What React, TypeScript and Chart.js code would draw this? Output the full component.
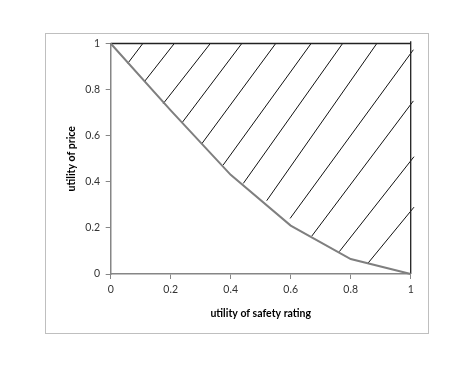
import React, { useEffect, useRef } from "react";
import { Chart, registerables } from "chart.js";

Chart.register(...registerables);

// Axis ticks
const xTickValues = [0, 0.2, 0.4, 0.6, 0.8, 1];
const xTickLabels = ["0", "0.2", "0.4", "0.6", "0.8", "1"];
const yTickValues = [0, 0.2, 0.4, 0.6, 0.8, 1];
const yTickLabels = ["0", "0.2", "0.4", "0.6", "0.8", "1"];

// Trade-off curve (gray)
const curveX = [0, 0.2, 0.4, 0.6, 0.8, 1];
const curveY = [1, 0.71, 0.43, 0.21, 0.065, 0];

// Boundary of the hatched region (black)
const topX = [0, 1];
const topY = [1, 1];
const rightX = [1, 1];
const rightY = [1.01, 0];

// Hatch lines: start (on curve) and end (on boundary)
const hatchX1 = [0.057, 0.112, 0.175, 0.237, 0.303, 0.375, 0.442, 0.52, 0.598, 0.67, 0.762, 0.857];
const hatchY1 = [0.914, 0.834, 0.739, 0.655, 0.564, 0.473, 0.393, 0.318, 0.241, 0.164, 0.097, 0.046];
const hatchX2 = [0.107, 0.212, 0.332, 0.437, 0.55, 0.668, 0.773, 0.887, 1.009, 1.009, 1.011, 1.011];
const hatchY2 = [1, 1, 1, 1, 1, 1, 1, 1, 0.973, 0.751, 0.509, 0.29];

const xTitle = "utility of safety rating";
const yTitle = "utility of price";

export default function App() {
  const ref = useRef<HTMLCanvasElement>(null);

  useEffect(() => {
    if (!ref.current) return;
    const pts = (xs: number[], ys: number[]) => xs.map((x, i) => ({ x, y: ys[i] }));
    const hatchSets = hatchX1.map((x1, i) => ({
      data: [
        { x: x1, y: hatchY1[i] },
        { x: hatchX2[i], y: hatchY2[i] },
      ],
      borderColor: "#111111",
      borderWidth: 1,
      pointRadius: 0,
      showLine: true,
      clip: false as any,
    }));
    const font = { family: "Lato, 'Open Sans', sans-serif", size: 10.5 };
    const chart = new Chart(ref.current, {
      type: "scatter",
      data: {
        datasets: [
          {
            data: pts(curveX, curveY),
            borderColor: "#7f7f7f",
            borderWidth: 2,
            pointRadius: 0,
            showLine: true,
            clip: false as any,
          },
          {
            data: pts(topX, topY),
            borderColor: "#222222",
            borderWidth: 1.5,
            pointRadius: 0,
            showLine: true,
            clip: false as any,
          },
          {
            data: pts(rightX, rightY),
            borderColor: "#222222",
            borderWidth: 1.3,
            pointRadius: 0,
            showLine: true,
            clip: false as any,
          },
          ...hatchSets,
        ],
      },
      options: {
        animation: false,
        responsive: false,
        devicePixelRatio: 1,
        layout: { padding: { left: 61.7, top: 43.5, right: 63.3, bottom: 42.4 } },
        plugins: { legend: { display: false }, tooltip: { enabled: false } },
        scales: {
          x: {
            type: "linear",
            min: 0,
            max: 1,
            afterBuildTicks: (s: any) => {
              s.ticks = xTickValues.map((v) => ({ value: v }));
            },
            afterFit: (s: any) => {
              s.height = 49.6;
            },
            grid: { display: true, drawOnChartArea: false, drawTicks: true, tickLength: 5, color: "#868686" },
            border: { display: true, color: "#868686", width: 1.5 },
            ticks: {
              font,
              color: "#333333",
              padding: 4,
              maxRotation: 0,
              callback: (_v: any, i: number) => xTickLabels[i],
            },
            title: { display: true, text: xTitle, color: "#000", font: { ...font, weight: "bold" } },
          },
          y: {
            type: "linear",
            min: 0,
            max: 1,
            afterBuildTicks: (s: any) => {
              s.ticks = yTickValues.map((v) => ({ value: v }));
            },
            afterFit: (s: any) => {
              s.width = 49;
            },
            grid: { display: true, drawOnChartArea: false, drawTicks: true, tickLength: 5, color: "#868686" },
            border: { display: true, color: "#868686", width: 1.5 },
            ticks: {
              font,
              color: "#333333",
              padding: 5.7,
              callback: (_v: any, i: number) => yTickLabels[i],
            },
            title: { display: true, text: yTitle, color: "#000", font: { ...font, weight: "bold" } },
          },
        },
      },
    } as any);
    return () => chart.destroy();
  }, []);

  return (
    <div style={{ position: "absolute", left: 0, top: 0, width: 474, height: 366, background: "#fff" }}>
      <canvas ref={ref} width={474} height={366} style={{ display: "block", width: 474, height: 366 }} />
      <div
        style={{
          position: "absolute",
          left: 45,
          top: 33,
          width: 382,
          height: 299,
          border: "1px solid #bfbfbf",
          pointerEvents: "none",
        }}
      />
    </div>
  );
}
